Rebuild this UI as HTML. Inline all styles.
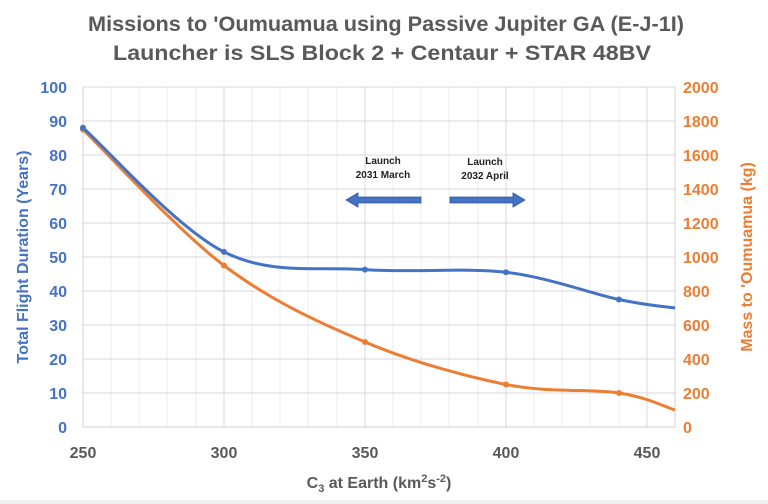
<!DOCTYPE html>
<html><head><meta charset="utf-8"><style>
body{margin:0;background:#fff;width:768px;height:504px;overflow:hidden}
svg{display:block;font-family:"Liberation Sans",sans-serif;font-weight:bold}
</style></head><body>
<svg width="768" height="504" viewBox="0 0 768 504">
<rect x="0" y="500" width="768" height="4" fill="#eee"/>
<text x="386" y="31" text-anchor="middle" font-size="21" fill="#595959" textLength="596" lengthAdjust="spacingAndGlyphs">Missions to 'Oumuamua using Passive Jupiter GA (E-J-1I)</text>
<text x="382" y="60" text-anchor="middle" font-size="21" fill="#595959" textLength="538" lengthAdjust="spacingAndGlyphs">Launcher is SLS Block 2 + Centaur + STAR 48BV</text>
<g stroke="#ececec" stroke-width="1">
<path d="M111,87V427M139,87V427M167,87V427M196,87V427M252,87V427M280,87V427M308,87V427M337,87V427M393,87V427M421,87V427M449,87V427M478,87V427M534,87V427M562,87V427M590,87V427M619,87V427M675,87V427"/>
</g>
<g stroke="#d9d9d9" stroke-width="1">
<path d="M224,87V427M365,87V427M506,87V427M647,87V427"/>
<path d="M83,87H675M83,121H675M83,155H675M83,189H675M83,223H675M83,257H675M83,291H675M83,325H675M83,359H675M83,393H675"/>
</g>
<path d="M83,87V427H675V87" stroke="#d0d0d0" fill="none"/>
<g font-size="16" fill="#4472C4" text-anchor="end">
<text x="67" y="93">100</text><text x="67" y="127">90</text><text x="67" y="161">80</text><text x="67" y="195">70</text><text x="67" y="229">60</text><text x="67" y="263">50</text><text x="67" y="297">40</text><text x="67" y="331">30</text><text x="67" y="365">20</text><text x="67" y="399">10</text><text x="67" y="433">0</text>
</g>
<g font-size="16" fill="#ED7D31" text-anchor="start">
<text x="683" y="93">2000</text><text x="683" y="127">1800</text><text x="683" y="161">1600</text><text x="683" y="195">1400</text><text x="683" y="229">1200</text><text x="683" y="263">1000</text><text x="683" y="297">800</text><text x="683" y="331">600</text><text x="683" y="365">400</text><text x="683" y="399">200</text><text x="683" y="433">0</text>
</g>
<g font-size="16" fill="#595959" text-anchor="middle">
<text x="83" y="458">250</text><text x="224" y="458">300</text><text x="365" y="458">350</text><text x="506" y="458">400</text><text x="647" y="458">450</text>
<text x="379" y="488">C<tspan font-size="11" dy="4">3</tspan><tspan dy="-4"> at Earth (km</tspan><tspan font-size="11" dy="-6">2</tspan><tspan dy="6">s</tspan><tspan font-size="11" dy="-6">-2</tspan><tspan dy="6">)</tspan></text>
</g>
<text transform="translate(28,257) rotate(-90)" text-anchor="middle" font-size="16" fill="#4472C4">Total Flight Duration (Years)</text>
<text transform="translate(752,257) rotate(-90)" text-anchor="middle" font-size="16" fill="#ED7D31">Mass to 'Oumuamua (kg)</text>
<g font-size="10" fill="#222" text-anchor="middle">
<text x="383" y="164">Launch</text><text x="383" y="178">2031 March</text>
<text x="485" y="165">Launch</text><text x="485" y="179">2032 April</text>
</g>
<path d="M421,197H358V193L346,200L358,207V203H421Z" fill="#4472C4" stroke="#2f5597" stroke-width="0.8"/>
<path d="M450,197H513V193L525,200L513,207V203H450Z" fill="#4472C4" stroke="#2f5597" stroke-width="0.8"/>
<path d="M83,129.5C106.5,152.2 177,230.1 224,265.5C271,300.9 318,322.2 365,342C412,361.8 463.7,376 506,384.5C548.3,393 590.8,388.6 619,393C647.2,397.3 665.7,407.2 675,410" stroke="#ED7D31" stroke-width="3" fill="none"/>
<g fill="#ED7D31"><circle cx="83" cy="129.5" r="3"/><circle cx="224" cy="265.5" r="3"/><circle cx="365" cy="342" r="3"/><circle cx="506" cy="384.5" r="3"/><circle cx="619" cy="393" r="3"/></g>
<path d="M83,127.8C106.5,148.5 177,228.3 224,251.9C271,275.5 318,266.2 365,269.6C412,273 463.7,267.3 506,272.3C548.3,277.3 590.8,293.5 619,299.5C647.2,305.5 665.7,306.6 675,308" stroke="#4472C4" stroke-width="3" fill="none"/>
<g fill="#4472C4"><circle cx="83" cy="127.8" r="3"/><circle cx="224" cy="251.9" r="3"/><circle cx="365" cy="269.6" r="3"/><circle cx="506" cy="272.3" r="3"/><circle cx="619" cy="299.5" r="3"/></g>
</svg>
</body></html>
